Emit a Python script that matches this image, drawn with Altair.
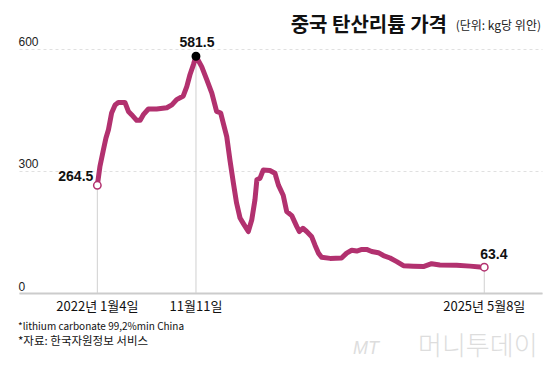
import altair as alt
import pandas as pd

# --- data (price of lithium carbonate, yuan/kg) ---
dates = [
    "2022-01-04", "2022-01-12", "2022-01-23", "2022-01-31", "2022-02-08", "2022-02-18",
    "2022-03-01", "2022-03-11", "2022-04-01", "2022-04-12", "2022-04-22", "2022-05-08",
    "2022-05-19", "2022-05-29", "2022-06-14", "2022-07-10", "2022-08-11", "2022-08-27",
    "2022-09-11", "2022-10-02", "2022-10-13", "2022-10-23", "2022-11-03", "2022-11-11",
    "2022-11-29", "2022-12-15", "2022-12-31", "2023-01-15", "2023-01-28", "2023-02-05",
    "2023-02-16", "2023-02-26", "2023-03-09", "2023-03-19", "2023-03-30", "2023-04-09",
    "2023-04-25", "2023-05-06", "2023-05-16", "2023-05-22", "2023-06-01", "2023-06-11",
    "2023-07-02", "2023-07-18", "2023-07-29", "2023-08-13", "2023-08-24", "2023-09-09",
    "2023-09-25", "2023-10-03", "2023-10-14", "2023-10-26", "2023-11-11", "2023-11-21",
    "2023-12-02", "2023-12-12", "2024-01-08", "2024-02-13", "2024-02-29", "2024-03-16",
    "2024-04-01", "2024-04-17", "2024-05-02", "2024-05-18", "2024-06-08", "2024-06-24",
    "2024-07-15", "2024-08-05", "2024-08-26", "2024-09-26", "2024-10-28", "2024-11-23",
    "2024-12-19", "2025-02-10", "2025-03-24", "2025-04-24", "2025-05-08",
]
values = [
    264.5, 310, 351, 380, 401, 442,
    462, 468, 468, 446, 438, 424,
    424, 438, 452, 452, 455, 462,
    475, 484, 507, 536, 561, 581.5,
    556, 524, 491, 446, 442, 417,
    384, 327, 270, 221, 184, 171,
    151, 180, 229, 278, 282, 302,
    301, 294, 265, 240, 200, 190,
    163, 151, 159, 151, 138, 118,
    98, 88, 85, 86, 98, 105,
    103, 107, 107, 102, 99, 92,
    86, 77, 67, 66, 65, 72,
    69, 68, 66, 64, 63.4,
]

key_dates = ["2022-01-04", "2022-11-11", "2025-05-08"]
key_values = [264.5, 581.5, 63.4]
key_labels = ["264.5", "581.5", "63.4"]
key_fill = ["white", "black", "white"]
key_stroke = ["#b2316f", "black", "#b2316f"]
axis_labels = ["2022년 1월4일", "11월11일", "2025년 5월8일"]
y_ticks = [0, 300, 600]

title_text = "중국 탄산리튬 가격"
unit_text = "(단위: kg당 위안)"
notes = ["*lithium carbonate 99,2%min China", "*자료: 한국자원정보 서비스"]

LINE = "#b2316f"
KFONT = "Noto Sans CJK KR"
NFONT = "Liberation Sans"

df = pd.DataFrame({"date": dates, "value": values})
kp = pd.DataFrame({"date": key_dates, "value": key_values, "label": key_labels,
                   "fill": key_fill, "stroke": key_stroke, "axis": axis_labels})

xscale = alt.Scale(domain=["2021-05-02", "2025-11-06"])
yscale = alt.Scale(domain=[0, 700])

x_enc = alt.X("date:T", scale=xscale,
              axis=alt.Axis(labels=False, ticks=False, grid=False, title=None,
                            domain=True, domainColor="#cccccc", domainWidth=2))
y_enc = alt.Y("value:Q", scale=yscale,
              axis=alt.Axis(values=y_ticks, grid=True, gridDash=[3, 3], gridColor="#e0e0e0",
                            domain=False, ticks=False, tickSize=0, title=None,
                            labelAlign="left", labelBaseline="bottom", labelPadding=1,
                            labelFont=NFONT, labelFontSize=12, labelColor="#222222"))

base = alt.Chart(df)

line = base.mark_line(color=LINE, strokeWidth=5, strokeJoin="round", strokeCap="round").encode(
    x=x_enc, y=y_enc)

kbase = alt.Chart(kp)
rules = kbase.mark_rule(color="#d0d0d0", strokeWidth=1).encode(
    x=alt.X("date:T", scale=xscale), y=alt.Y("value:Q", scale=yscale), y2=alt.datum(0))

points = kbase.mark_point(filled=False, size=55, strokeWidth=1.5, opacity=1).encode(
    x=alt.X("date:T", scale=xscale), y=alt.Y("value:Q", scale=yscale),
    fill=alt.Fill("fill:N", scale=None), stroke=alt.Stroke("stroke:N", scale=None))

lab_start = alt.Chart(kp.iloc[[0]]).mark_text(
    font=NFONT, fontSize=14, fontWeight="bold", align="right", baseline="alphabetic",
    dx=-4, dy=-4, color="#111111").encode(
    x=alt.X("date:T", scale=xscale), y=alt.Y("value:Q", scale=yscale), text="label:N")
lab_peak = alt.Chart(kp.iloc[[1]]).mark_text(
    font=NFONT, fontSize=14, fontWeight="bold", align="center", baseline="alphabetic",
    dx=1, dy=-9, color="#111111").encode(
    x=alt.X("date:T", scale=xscale), y=alt.Y("value:Q", scale=yscale), text="label:N")
lab_end = alt.Chart(kp.iloc[[2]]).mark_text(
    font=NFONT, fontSize=14, fontWeight="bold", align="left", baseline="alphabetic",
    dx=-4, dy=-8, color="#111111").encode(
    x=alt.X("date:T", scale=xscale), y=alt.Y("value:Q", scale=yscale), text="label:N")

xlabels = kbase.mark_text(font=KFONT, fontSize=13, align="center", baseline="alphabetic",
                          color="#111111").encode(
    x=alt.X("date:T", scale=xscale), y=alt.value(303), text="axis:N")

title = alt.Chart(pd.DataFrame({"t": [title_text]})).mark_text(
    font=KFONT, fontSize=20, fontWeight="bold", align="right", baseline="alphabetic",
    color="#111111").encode(x=alt.value(428), y=alt.value(24), text="t:N")
unit = alt.Chart(pd.DataFrame({"t": [unit_text]})).mark_text(
    font=KFONT, fontSize=12, align="right", baseline="alphabetic",
    color="#222222").encode(x=alt.value(522), y=alt.value(22), text="t:N")

note_df = pd.DataFrame({"t": notes, "yy": [322, 337], "fs": [10, 11.5]})
note_txt = alt.Chart(note_df).mark_text(
    font=KFONT, align="left", baseline="alphabetic", color="#111111").encode(
    x=alt.value(-1), y=alt.Y("yy:Q", scale=None), size=alt.Size("fs:Q", scale=None),
    text="t:N")

wm1 = alt.Chart(pd.DataFrame({"t": ["MT"]})).mark_text(
    font=NFONT, fontSize=18, fontStyle="italic", align="left", baseline="alphabetic",
    color="#dddddd").encode(x=alt.value(334), y=alt.value(346), text="t:N")
wm2 = alt.Chart(pd.DataFrame({"t": ["머니투데이"]})).mark_text(
    font=KFONT, fontSize=26, fontWeight=300, align="left", baseline="alphabetic",
    color="#dddddd").encode(x=alt.value(399), y=alt.value(347), text="t:N")

chart = alt.layer(
    wm1, wm2, rules, line, points, lab_start, lab_peak, lab_end, xlabels,
    title, unit, note_txt
).properties(
    width=523, height=285,
    autosize=alt.AutoSizeParams(type="none"),
    padding={"left": 11, "top": 0, "right": 8, "bottom": 72},
).configure_view(stroke=None)

chart.save("out.html", embed_options={"renderer": "svg", "actions": False})
